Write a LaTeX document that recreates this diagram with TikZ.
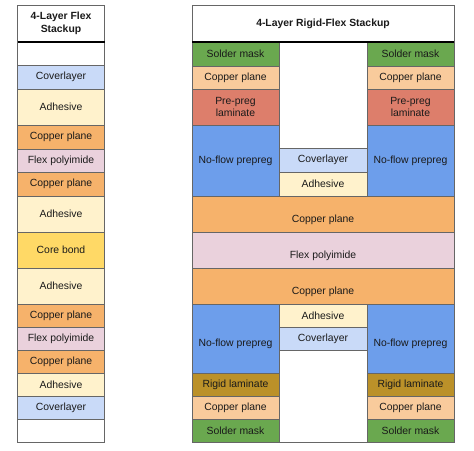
\documentclass[tikz,border=0pt]{standalone}
\usepackage{fontspec}
\setmainfont{Liberation Sans}
\definecolor{soldermask}{HTML}{6AA84F}
\definecolor{rigidcu}{HTML}{F9CB9C}
\definecolor{prepreg}{HTML}{DD7E6B}
\definecolor{noflow}{HTML}{6D9EEB}
\definecolor{coverlay}{HTML}{C9DAF8}
\definecolor{adhesive}{HTML}{FFF2CC}
\definecolor{flexcu}{HTML}{F6B26B}
\definecolor{polyimide}{HTML}{EAD1DC}
\definecolor{corebond}{HTML}{FFD966}
\definecolor{rigidlam}{HTML}{BB9129}
\definecolor{cellborder}{HTML}{666666}
\definecolor{celltext}{HTML}{1A1A1A}
\newcommand\stacklayer[7]{%
  \pgfmathsetmacro\lw{#4-#2}\pgfmathsetmacro\lh{#5-#3}%
  \node[cell, fill=#6, minimum width=\lw pt, minimum height=\lh pt] (#1) at ({(#2+#4)/2},{(#3+#5)/2}) {#7};}
\newcommand\lowtext[1]{\raisebox{-5.5pt}[\height][\depth]{#1}}
\begin{document}
\begin{tikzpicture}[x=1pt,y=-1pt,
  cell/.style={draw=cellborder, line width=0.7pt, rectangle, inner sep=0pt, outer sep=0pt,
    align=center, text=celltext, font=\fontsize{10.4}{12.5}\selectfont},
  rule/.style={line width=2pt, black}]
\useasboundingbox (0,0) rectangle (474,450);
% left: 4-Layer Flex Stackup
\stacklayer{lh}{17.5}{5}{104.5}{42}{white}{\bfseries 4-Layer Flex\\\bfseries Stackup}
\stacklayer{l1}{17.5}{42}{104.5}{65.5}{white}{}
\stacklayer{l2}{17.5}{65.5}{104.5}{89}{coverlay}{Coverlayer}
\stacklayer{l3}{17.5}{89}{104.5}{125.5}{adhesive}{Adhesive}
\stacklayer{l4}{17.5}{125.5}{104.5}{149}{flexcu}{Copper plane}
\stacklayer{l5}{17.5}{149}{104.5}{172.5}{polyimide}{Flex polyimide}
\stacklayer{l6}{17.5}{172.5}{104.5}{196}{flexcu}{Copper plane}
\stacklayer{l7}{17.5}{196}{104.5}{232}{adhesive}{Adhesive}
\stacklayer{l8}{17.5}{232}{104.5}{268}{corebond}{Core bond}
\stacklayer{l9}{17.5}{268}{104.5}{304}{adhesive}{Adhesive}
\stacklayer{l10}{17.5}{304}{104.5}{327}{flexcu}{Copper plane}
\stacklayer{l11}{17.5}{327}{104.5}{350}{polyimide}{Flex polyimide}
\stacklayer{l12}{17.5}{350}{104.5}{373}{flexcu}{Copper plane}
\stacklayer{l13}{17.5}{373}{104.5}{396}{adhesive}{Adhesive}
\stacklayer{l14}{17.5}{396}{104.5}{419}{coverlay}{Coverlayer}
\stacklayer{l15}{17.5}{419}{104.5}{442}{white}{}
\draw[rule] (lh.south west) -- (lh.south east);
% right: 4-Layer Rigid-Flex Stackup
\stacklayer{rh}{192}{5}{454}{42}{white}{\bfseries 4-Layer Rigid-Flex Stackup}
% left rigid column
\stacklayer{a1}{192}{42}{279}{66}{soldermask}{Solder mask}
\stacklayer{a2}{192}{66}{279}{89}{rigidcu}{Copper plane}
\stacklayer{a3}{192}{89}{279}{125}{prepreg}{Pre-preg\\laminate}
\stacklayer{a4}{192}{125}{279}{196}{noflow}{No-flow prepreg}
\stacklayer{a5}{192}{304}{279}{373}{noflow}{\lowtext{No-flow prepreg}}
\stacklayer{a6}{192}{373}{279}{396}{rigidlam}{Rigid laminate}
\stacklayer{a7}{192}{396}{279}{419}{rigidcu}{Copper plane}
\stacklayer{a8}{192}{419}{279}{442}{soldermask}{Solder mask}
% middle flex column
\stacklayer{m1}{279}{42}{367}{148}{white}{}
\stacklayer{m2}{279}{148}{367}{172}{coverlay}{Coverlayer}
\stacklayer{m3}{279}{172}{367}{196}{adhesive}{Adhesive}
\stacklayer{m4}{279}{304}{367}{327}{adhesive}{Adhesive}
\stacklayer{m5}{279}{327}{367}{350}{coverlay}{Coverlayer}
\stacklayer{m6}{279}{350}{367}{442}{white}{}
% right rigid column
\stacklayer{b1}{367}{42}{454}{66}{soldermask}{Solder mask}
\stacklayer{b2}{367}{66}{454}{89}{rigidcu}{Copper plane}
\stacklayer{b3}{367}{89}{454}{125}{prepreg}{Pre-preg\\laminate}
\stacklayer{b4}{367}{125}{454}{196}{noflow}{No-flow prepreg}
\stacklayer{b5}{367}{304}{454}{373}{noflow}{\lowtext{No-flow prepreg}}
\stacklayer{b6}{367}{373}{454}{396}{rigidlam}{Rigid laminate}
\stacklayer{b7}{367}{396}{454}{419}{rigidcu}{Copper plane}
\stacklayer{b8}{367}{419}{454}{442}{soldermask}{Solder mask}
% full-width flex core
\stacklayer{c1}{192}{196}{454}{232}{flexcu}{\lowtext{Copper plane}}
\stacklayer{c2}{192}{232}{454}{268}{polyimide}{\lowtext{Flex polyimide}}
\stacklayer{c3}{192}{268}{454}{304}{flexcu}{\lowtext{Copper plane}}
\draw[rule] (rh.south west) -- (rh.south east);
\end{tikzpicture}
\end{document}
